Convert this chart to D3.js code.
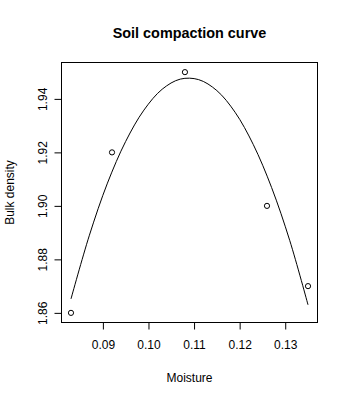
<!DOCTYPE html>
<html><head><meta charset="utf-8">
<script src="https://cdn.jsdelivr.net/npm/d3@7"></script>
<style>body{margin:0;background:#fff}svg{display:block}text{font-family:"Liberation Sans",Arial,sans-serif;fill:#000}</style>
</head><body>
<script>
// Observed data
const moisture = [0.083, 0.092, 0.108, 0.126, 0.135];
const bulkDensity = [1.86, 1.92, 1.95, 1.90, 1.87];
// Fitted curve
const curveMoisture = [0.083, 0.087, 0.091, 0.095, 0.099, 0.103, 0.107, 0.111, 0.115, 0.119, 0.123, 0.127, 0.131, 0.135];
const curveDensity = [1.8652, 1.8888, 1.9085, 1.9241, 1.9358, 1.9436, 1.9474, 1.9472, 1.9431, 1.9350, 1.9229, 1.9069, 1.8870, 1.8630];
const xTicks = [0.09, 0.10, 0.11, 0.12, 0.13];
const yTicks = [1.86, 1.88, 1.90, 1.92, 1.94];
const title = "Soil compaction curve";
const xLabel = "Moisture";
const yLabel = "Bulk density";

const W = 350, H = 401;
const L = 61.5, R = 317.5, T = 62.5, B = 322.5;
const svg = d3.select("body").append("svg").attr("width", W).attr("height", H);

function padded(arr){ const [a,b] = d3.extent(arr); const p = (b-a)*0.04; return [a-p, b+p]; }
const x = d3.scaleLinear().domain(padded(moisture)).range([L, R]);
const y = d3.scaleLinear().domain(padded(bulkDensity)).range([B, T]);

// box
svg.append("rect").attr("x", L).attr("y", T).attr("width", R-L).attr("height", B-T)
  .attr("fill", "none").attr("stroke", "#000").attr("stroke-width", 1);

// axes
const xAxis = svg.append("g").attr("transform", `translate(0,${B})`)
  .call(d3.axisBottom(x).tickValues(xTicks).tickSize(7).tickPadding(11).tickFormat(d3.format(".2f")));
const yAxis = svg.append("g").attr("transform", `translate(${L},0)`)
  .call(d3.axisLeft(y).tickValues(yTicks).tickSize(7).tickPadding(0).tickFormat(d3.format(".2f")));
[xAxis, yAxis].forEach(g => {
  g.select(".domain").remove();
  g.selectAll(".tick line").attr("stroke", "#000");
  g.selectAll(".tick text").attr("font-size", 12).attr("font-family", "Liberation Sans, Arial, sans-serif").attr("fill", "#000");
});
xAxis.selectAll(".tick text").attr("dy", "0.71em");
yAxis.selectAll(".tick text")
  .attr("text-anchor", "middle")
  .attr("x", 0).attr("dy", 0)
  .attr("transform", function(){ return `translate(${43 - L},0) rotate(-90)`; })
  .attr("y", 4);

// curve
const pts = curveMoisture.map((m, i) => [m, curveDensity[i]]);
svg.append("path").datum(pts)
  .attr("fill", "none").attr("stroke", "#000").attr("stroke-width", 1)
  .attr("d", d3.line().x(d => x(d[0])).y(d => y(d[1])).curve(d3.curveCatmullRom));

// points
svg.append("g").selectAll("circle").data(moisture).join("circle")
  .attr("cx", (d) => x(d)).attr("cy", (d, i) => y(bulkDensity[i])).attr("r", 2.6)
  .attr("fill", "none").attr("stroke", "#000").attr("stroke-width", 1);

// titles
svg.append("text").attr("x", (L+R)/2).attr("y", 38).attr("text-anchor", "middle")
  .attr("font-size", 14.4).attr("font-weight", "bold").text(title);
svg.append("text").attr("x", (L+R)/2).attr("y", 382).attr("text-anchor", "middle")
  .attr("font-size", 12).text(xLabel);
svg.append("text").attr("transform", `translate(14,${(T+B)/2}) rotate(-90)`).attr("text-anchor", "middle")
  .attr("font-size", 12).text(yLabel);
</script>
</body></html>
